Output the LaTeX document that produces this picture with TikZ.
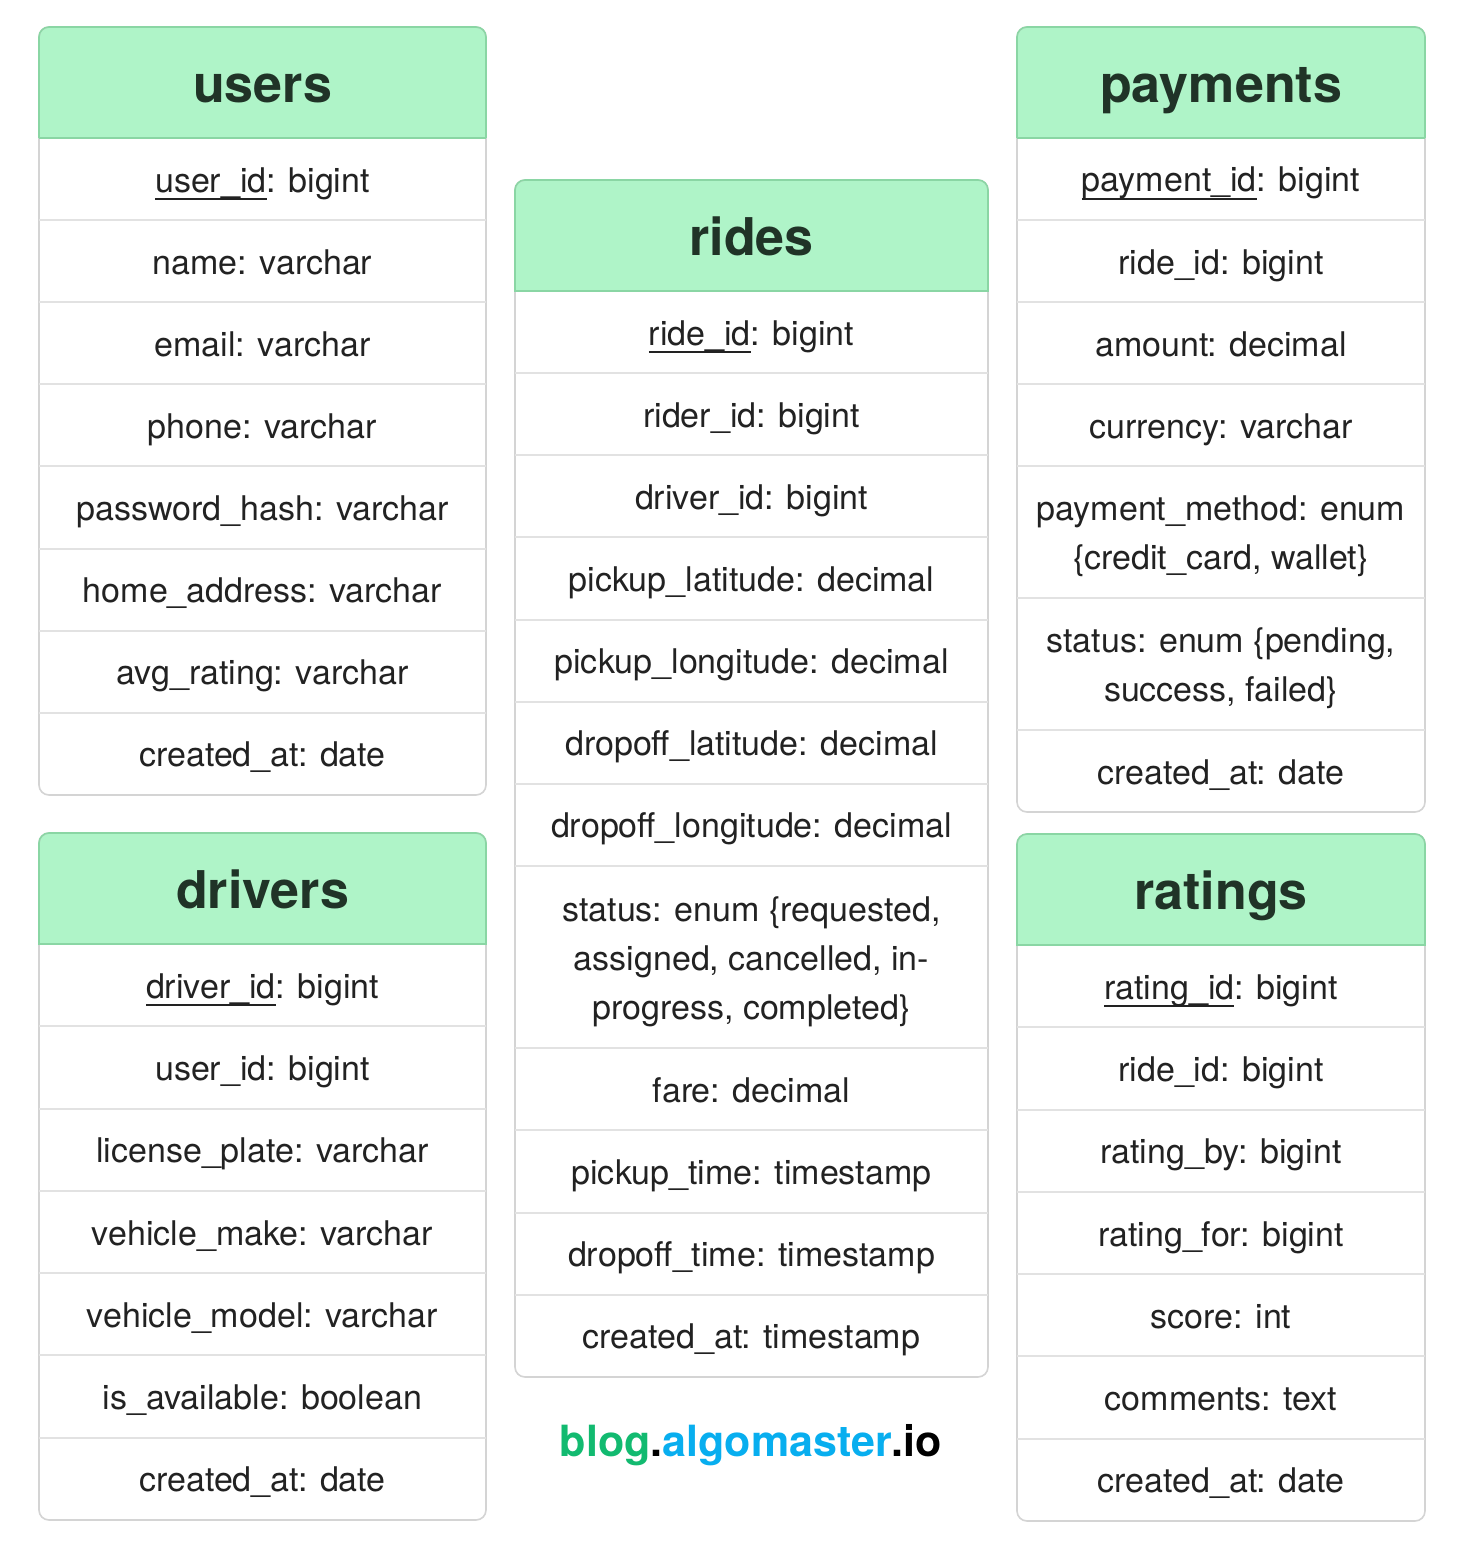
\documentclass[tikz,border=0pt]{standalone}
\usepackage{fontspec}
\setmainfont{TeX Gyre Heros}
\usepackage{xcolor}
\usepackage{tikz}

\definecolor{headgreen}{RGB}{175,244,200}
\definecolor{headline}{RGB}{138,214,164}
\definecolor{framegray}{RGB}{212,212,212}
\definecolor{rowgray}{RGB}{226,226,226}
\definecolor{fieldtext}{RGB}{34,34,34}
\definecolor{titletext}{RGB}{32,51,39}
\definecolor{bloggreen}{RGB}{18,186,112}
\definecolor{blogblue}{RGB}{8,174,239}

% primary key: underlined name
\newsavebox{\pkeybox}
\newcommand{\pkey}[1]{\sbox{\pkeybox}{#1}\rlap{\rule[-4pt]{\wd\pkeybox}{1pt}}\usebox{\pkeybox}}

% table frame: x1, x2, top, header bottom, bottom
\newcommand{\drawframe}[5]{
	\begin{scope}
		\clip[rounded corners=5pt] (#1,#3) rectangle (#2,#5);
		\fill[headgreen] (#1,#3) rectangle (#2,#4);
	\end{scope}
	\draw[framegray, line width=0.8pt, rounded corners=5pt] (#1,#3) rectangle (#2,#5);
	\begin{scope}
		\clip (#1-10,#3-10) rectangle (#2+10,#4);
		\draw[headline, line width=0.8pt, rounded corners=5pt] (#1,#3) rectangle (#2,#5);
	\end{scope}
	\draw[headline, line width=0.8pt] (#1,#4) -- (#2,#4);
}
% row lines: x1, x2, first y, pitch, count
\newcommand{\drawrows}[5]{
	\foreach \i in {1,...,#5}
		\draw[rowgray, line width=1pt] (#1,{#3+#4*\i}) -- (#2,{#3+#4*\i});
}

\begin{document}
\begin{tikzpicture}[x=0.5pt, y=-0.5pt,
	field/.style={font=\fontsize{17}{24.5}\selectfont, text=fieldtext, align=center,
		text height=13pt, text depth=0pt, inner sep=0pt},
	title/.style={font=\fontsize{26}{30}\selectfont\bfseries, text=titletext,
		text height=20pt, text depth=0pt, inner sep=0pt},
	logo/.style={font=\fontsize{21.5}{26}\selectfont\bfseries,
		text height=16pt, text depth=0pt, inner sep=0pt}]
	\fill[white] (0,0) rectangle (1456,1557);
	\useasboundingbox (0,0) rectangle (1456,1557);

	%% frames
	\drawframe{39}{486}{27}{138}{795}
	\drawframe{39}{486}{833}{944}{1520}
	\drawframe{515}{988}{180}{291}{1377}
	\drawframe{1017}{1425}{27}{138}{812}
	\drawframe{1017}{1425}{834}{945}{1521}

	% row lines
	\drawrows{39}{486}{138}{82.1}{7}
	\drawrows{39}{486}{944}{82.29}{6}
	\drawrows{515}{988}{291}{82.14}{7}
	\drawrows{515}{988}{1048}{82.25}{3}
	\draw[rowgray, line width=1pt] (515,1048) -- (988,1048);
	\drawrows{1017}{1425}{138}{82}{4}
	\draw[rowgray, line width=1pt] (1017,598) -- (1425,598);
	\draw[rowgray, line width=1pt] (1017,730) -- (1425,730);
	\drawrows{1017}{1425}{945}{82.29}{6}

	%% users
	\node[title] (users-title) at (262.5,82.5) {users};
	\foreach \txt [count=\i] in {\pkey{user\_id}: bigint, name: varchar, email: varchar,
		phone: varchar, password\_hash: varchar, home\_address: varchar,
		avg\_rating: varchar, created\_at: date}
		\node[field] (users-\i) at (262.5,{138+82.1*(\i-0.5)}) {\txt};

	%% drivers
	\node[title] (drivers-title) at (262.5,888.5) {drivers};
	\foreach \txt [count=\i] in {\pkey{driver\_id}: bigint, user\_id: bigint,
		license\_plate: varchar, vehicle\_make: varchar, vehicle\_model: varchar,
		is\_available: boolean, created\_at: date}
		\node[field] (drivers-\i) at (262.5,{944+82.29*(\i-0.5)}) {\txt};

	%% rides
	\node[title] (rides-title) at (751.5,235.5) {rides};
	\foreach \txt [count=\i] in {\pkey{ride\_id}: bigint, rider\_id: bigint,
		driver\_id: bigint, pickup\_latitude: decimal, pickup\_longitude: decimal,
		dropoff\_latitude: decimal, dropoff\_longitude: decimal}
		\node[field] (rides-\i) at (751.5,{291+82.14*(\i-0.5)}) {\txt};
	% multi-line: placed by the last line
	\node[field] (rides-status) at (751.5,957+49)
		{status: enum \{requested,\\assigned, cancelled, in-\\progress, completed\}};
	\foreach \txt [count=\i] in {fare: decimal, pickup\_time: timestamp,
		dropoff\_time: timestamp, created\_at: timestamp}
		\node[field] (rides-end-\i) at (751.5,{1048+82.25*(\i-0.5)}) {\txt};

	%% payments
	\node[title] (payments-title) at (1221,82.5) {payments};
	\foreach \txt [count=\i] in {\pkey{payment\_id}: bigint, ride\_id: bigint,
		amount: decimal, currency: varchar}
		\node[field] (payments-\i) at (1221,{138+82*(\i-0.5)}) {\txt};
	\node[field] (payments-method) at (1221,532+24.5)
		{payment\_method: enum\\\{credit\_card, wallet\}};
	\node[field] (payments-status) at (1221,664+24.5)
		{status: enum \{pending,\\success, failed\}};
	\node[field] (payments-created) at (1221,771) {created\_at: date};

	%% ratings
	\node[title] (ratings-title) at (1221,889.5) {ratings};
	\foreach \txt [count=\i] in {\pkey{rating\_id}: bigint, ride\_id: bigint,
		rating\_by: bigint, rating\_for: bigint, score: int, comments: text,
		created\_at: date}
		\node[field] (ratings-\i) at (1221,{945+82.29*(\i-0.5)}) {\txt};

	% logo
	\node[logo] (logo) at (751,1440)
		{\textcolor{bloggreen}{blog}.\textcolor{blogblue}{algomaster}.io};
\end{tikzpicture}
\end{document}
